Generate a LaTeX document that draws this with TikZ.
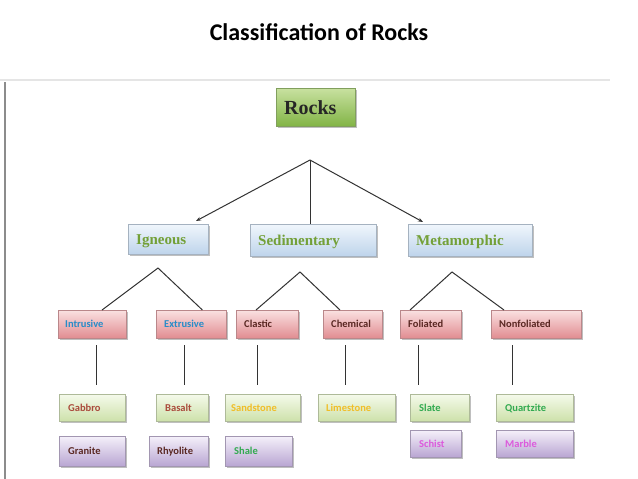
\documentclass[tikz,border=0pt]{standalone}
\usepackage{fontspec}
\setmainfont{Liberation Serif}
\newfontfamily\carl{Carlito}
\usetikzlibrary{shadows,arrows.meta}
\definecolor{gtop}{RGB}{200,225,160}\definecolor{gbot}{RGB}{130,180,70}
\definecolor{btop}{RGB}{240,246,252}\definecolor{bbot}{RGB}{190,212,235}
\definecolor{rtop}{RGB}{250,225,225}\definecolor{rbot}{RGB}{225,140,145}
\definecolor{ltop}{RGB}{245,250,235}\definecolor{lbot}{RGB}{205,225,170}
\definecolor{ptop}{RGB}{245,240,250}\definecolor{pbot}{RGB}{185,165,210}
\definecolor{lvtwo}{RGB}{115,160,55}
\definecolor{brown}{RGB}{90,40,35}\definecolor{rbrown}{RGB}{170,75,60}
\definecolor{yel}{RGB}{240,190,40}\definecolor{grn}{RGB}{50,170,80}
\definecolor{mag}{RGB}{220,90,220}\definecolor{ibl}{RGB}{40,140,200}
\tikzset{
 box/.style={anchor=north west,inner xsep=0pt,inner ysep=0pt,draw=#1!60!gray,line width=0.4pt,
   drop shadow={shadow xshift=1.5pt,shadow yshift=-1.5pt,opacity=0.5},align=left,text depth=0pt},
 gbox/.style={box=gbot,top color=gtop,bottom color=gbot},
 bbox/.style={box=bbot,top color=btop,bottom color=bbot},
 rbox/.style={box=rbot,top color=rtop,bottom color=rbot},
 lbox/.style={box=lbot,top color=ltop,bottom color=lbot},
 pbox/.style={box=pbot,top color=ptop,bottom color=pbot},
 l2/.style={font=\bfseries\fontsize{15}{15}\selectfont,text=lvtwo},
 l3/.style={font=\carl\bfseries\fontsize{10.5}{10.5}\selectfont},
 ln/.style={draw=black!80,line width=1pt},
 arr/.style={ln,-{Stealth[length=5pt]}}
}
\newcommand{\bx}[6]{\node[#1,text width=#4-#2,minimum height=#5-#3,#6] at (#2,#3)}
\begin{document}
\begin{tikzpicture}[x=1pt,y=-1pt]
\useasboundingbox (0,0) rectangle (638,479);
\fill[white] (0,0) rectangle (638,479);
\node[font=\carl\bfseries\fontsize{24}{24}\selectfont] (title) at (319,32) {Classification of Rocks};
\draw[black!10,line width=1.5pt] (0,80) -- (610,80);
\draw[black!45,line width=2pt] (5,82) -- (5,479);
% nodes
\bx{gbox}{276}{88}{355}{126}{font=\bfseries\fontsize{20}{20}\selectfont,text=black!85} (rocks) {\hspace{8pt}Rocks};
\bx{bbox}{128}{224}{208}{254}{l2} (ign) {\hspace{8pt}Igneous};
\bx{bbox}{250}{224}{376}{256}{l2} (sed) {\hspace{8pt}Sedimentary};
\bx{bbox}{408}{224}{532}{256}{l2} (met) {\hspace{8pt}Metamorphic};
\bx{rbox}{58}{310}{126}{338}{l3,text=ibl} (intr) {\hspace{7pt}Intrusive};
\bx{rbox}{156}{310}{226}{338}{l3,text=ibl} (extr) {\hspace{8pt}Extrusive};
\bx{rbox}{236}{310}{298}{338}{l3,text=brown} (clas) {\hspace{8pt}Clastic};
\bx{rbox}{323}{310}{382}{338}{l3,text=brown} (chem) {\hspace{8pt}Chemical};
\bx{rbox}{400}{310}{461}{338}{l3,text=brown} (fol) {\hspace{8pt}Foliated};
\bx{rbox}{491}{310}{581}{338}{l3,text=brown} (nfol) {\hspace{8pt}Nonfoliated};
\bx{lbox}{59}{394}{125}{421}{l3,text=rbrown} (gab) {\hspace{9pt}Gabbro};
\bx{lbox}{156}{394}{208}{421}{l3,text=rbrown} (bas) {\hspace{9pt}Basalt};
\bx{lbox}{225}{394}{300}{421}{l3,text=yel} (sand) {\hspace{6pt}Sandstone};
\bx{lbox}{318}{394}{395}{421}{l3,text=yel} (lime) {\hspace{8pt}Limestone};
\bx{lbox}{410}{394}{469}{421}{l3,text=grn} (slate) {\hspace{9pt}Slate};
\bx{lbox}{496}{394}{573}{421}{l3,text=grn} (quar) {\hspace{9pt}Quartzite};
\bx{pbox}{59}{436}{125}{466}{l3,text=brown} (gran) {\hspace{9pt}Granite};
\bx{pbox}{149}{436}{208}{466}{l3,text=brown} (rhy) {\hspace{8pt}Rhyolite};
\bx{pbox}{225}{436}{292}{466}{l3,text=grn} (shale) {\hspace{9pt}Shale};
\bx{pbox}{410}{430}{461}{457}{l3,text=mag} (schist) {\hspace{9pt}Schist};
\bx{pbox}{496}{430}{573}{457}{l3,text=mag} (marb) {\hspace{9pt}Marble};
% connectors
\coordinate (j0) at (310,160);
\draw[arr] (j0) -- (196,221);
\draw[ln] (j0) -- (310,224);
\draw[arr] (j0) -- (423,222);
\coordinate (j1) at (158,268);
\draw[ln] ([xshift=44pt]intr.north west) -- (j1) -- ([xshift=-24pt]extr.north east);
\coordinate (j2) at (300,272);
\draw[ln] ([xshift=20pt]clas.north west) -- (j2) -- ([xshift=17pt]chem.north west);
\coordinate (j3) at (452,272);
\draw[ln] ([xshift=10pt]fol.north west) -- (j3) -- ([xshift=13pt]nfol.north west);
\foreach \x in {96,184,257,345,418,512}{
  \draw[ln,line width=0.7pt] (\x,345) -- (\x,385);}
\end{tikzpicture}
\end{document}
